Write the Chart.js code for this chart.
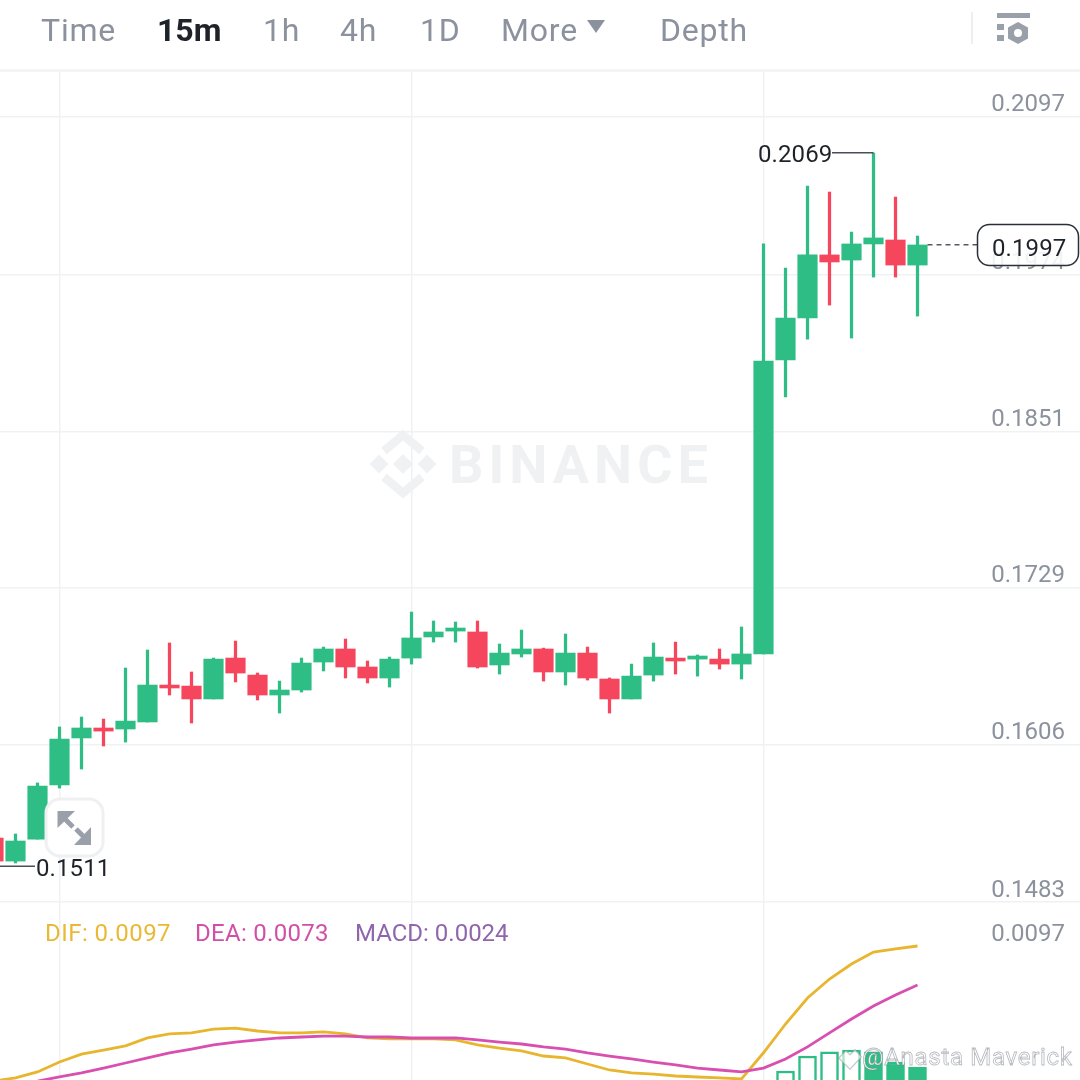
<!DOCTYPE html>
<html>
<head>
<meta charset="utf-8">
<title>15m candlestick chart</title>
<script src="https://cdn.jsdelivr.net/npm/chart.js@4/dist/chart.umd.min.js"></script>
<style>
html,body{margin:0;padding:0;background:#fff;width:1080px;height:1080px;overflow:hidden}
#chart{position:absolute;left:0;top:0;display:block}
.tab{position:absolute;top:11px;font:400 32px Roboto,sans-serif;letter-spacing:.8px;color:#8b929e;line-height:38px;white-space:nowrap}
.tab.on{font-weight:700;color:#1e2329;letter-spacing:0}
#bar{position:absolute;left:0;top:69px;width:1080px;height:2.5px;background:#f3f4f5}
#div{position:absolute;left:971px;top:12px;width:2px;height:32px;background:#eceef0}
svg{position:absolute}
</style>
</head>
<body>
<canvas id="chart" width="1080" height="1080"></canvas>
<div id="bar"></div>
<span class="tab" style="left:41px">Time</span>
<span class="tab on" style="left:157px">15m</span>
<span class="tab" style="left:263px">1h</span>
<span class="tab" style="left:340px">4h</span>
<span class="tab" style="left:420px">1D</span>
<span class="tab" style="left:501px">More</span>
<svg style="left:585px;top:19px" width="22" height="16"><path d="M2 1H20L11 14Z" fill="#8b929e"/></svg>
<span class="tab" style="left:660px">Depth</span>
<div id="div"></div>
<svg style="left:995px;top:10px" width="38" height="36">
<rect x="2" y="3" width="33" height="5" fill="#9aa0aa"/>
<rect x="2" y="14" width="7" height="6" fill="#9aa0aa"/>
<rect x="2" y="25" width="7" height="6" fill="#9aa0aa"/>
<path d="M23 12L33 17.5V28.5L23 34L13 28.5V17.5Z" fill="#9aa0aa"/>
<circle cx="23" cy="23" r="4" fill="#fff"/>
</svg>
<script>
// Candle sequence numbers (left to right)
const candleIndex = [-1,0,1,2,3,4,5,6,7,8,9,10,11,12,13,14,15,16,17,18,19,20,21,22,23,24,25,26,27,28,29,30,31,32,33,34,35,36,37,38,39,40,41];
const openPrices = [.15330,.15150,.15322,.15745,.16113,.16191,.16183,.16238,.16527,.16519,.16418,.16738,.16605,.16449,.16488,.16707,.16809,.16668,.16582,.16738,.16903,.16949,.16942,.16684,.16770,.16809,.16629,.16777,.16574,.16418,.16605,.16738,.16730,.16730,.16691,.16770,.19069,.19398,.19891,.19851,.19977,.20008,.19812];
const closePrices = [.15150,.15307,.15737,.16105,.16191,.16167,.16245,.16527,.16504,.16418,.16730,.16621,.16449,.16488,.16699,.16809,.16668,.16582,.16730,.16895,.16942,.16973,.16668,.16777,.16809,.16629,.16777,.16582,.16418,.16597,.16746,.16715,.16754,.16691,.16770,.19061,.19398,.19891,.19836,.19977,.20024,.19812,.19969];
const highPrices = [.15330,.15362,.15761,.16199,.16277,.16261,.16660,.16801,.16856,.16629,.16738,.16871,.16621,.16558,.16738,.16824,.16887,.16715,.16746,.17098,.17028,.17020,.17028,.16848,.16957,.16816,.16926,.16824,.16582,.16691,.16856,.16863,.16762,.16809,.16981,.19977,.19789,.20430,.20383,.20070,.20688,.20344,.20039];
const lowPrices = [.15111,.15135,.15322,.15721,.15870,.16050,.16081,.16238,.16449,.16230,.16418,.16551,.16410,.16308,.16472,.16637,.16582,.16543,.16511,.16691,.16863,.16863,.16660,.16613,.16746,.16558,.16527,.16566,.16308,.16418,.16558,.16613,.16597,.16652,.16574,.16770,.18780,.19233,.19499,.19241,.19718,.19718,.19413];
const difValues = [.00139,.00158,.00195,.00256,.00305,.00330,.00355,.00404,.00429,.00435,.00459,.00465,.00447,.00435,.00435,.00441,.00429,.00404,.00398,.00398,.00398,.00392,.00361,.00342,.00324,.00293,.00281,.00244,.00207,.00189,.00182,.00170,.00164,.00158,.00152,.00313,.00490,.00650,.00767,.00859,.00933,.00952,.00970];
const deaValues = [.00115,.00127,.00139,.00164,.00189,.00219,.00250,.00281,.00312,.00336,.00361,.00379,.00392,.00404,.00410,.00416,.00416,.00410,.00410,.00404,.00404,.00404,.00392,.00379,.00367,.00349,.00336,.00312,.00293,.00275,.00256,.00238,.00219,.00207,.00195,.00219,.00275,.00349,.00435,.00521,.00601,.00669,.00730];
// MACD histogram: only the bars visible in the frame
const histIndex = [35,36,37,38,39,40,41];
const histValues = [.00201,.00293,.00318,.00330,.00318,.00256,.00225];
const priceTicks = [.2097,.1974,.1851,.1729,.1606,.1483];
const macdTicks = [.0097];
const timeGridIndex = [2,18,34];
const highLabel = {index:39, price:.2069, text:'0.2069'};
const lowLabel = {index:-1, price:.1511, text:'0.1511'};
const lastPrice = {index:41, price:.1997, text:'0.1997'};
const legendItems = [['DIF: 0.0097','#e9b936'],['DEA: 0.0073','#d14fa8'],['MACD: 0.0024','#8f66ad']];

const UP='#2ebd85', DOWN='#f6465d', GRID='#f0f1f3', TICK='#8b929e', INK='#1e2329';
const FONT='Roboto, sans-serif';
const isUp = i => closePrices[i] >= openPrices[i];
const candleColors = candleIndex.map((_,i)=> isUp(i)?UP:DOWN);
const flatAxis = a => { a.width=0; a.paddingTop=0; a.paddingBottom=0; a.paddingLeft=0; a.paddingRight=0; };

const overlay = {
  id:'overlay',
  beforeDatasetsDraw(chart){
    const c=chart.ctx; c.save();
    // BINANCE watermark
    c.fillStyle='#f0f1f2';
    c.font='700 54px '+FONT; c.letterSpacing='5px'; c.textBaseline='middle'; c.textAlign='left';
    c.fillText('BINANCE',449,469);
    c.letterSpacing='0px';
    const cx=403,cy=464;
    const dia=(x,y,r)=>{c.beginPath();c.moveTo(x,y-r);c.lineTo(x+r,y);c.lineTo(x,y+r);c.lineTo(x-r,y);c.closePath();c.fill();};
    dia(cx,cy,10); dia(cx-24,cy,9.5); dia(cx+24,cy,9.5);
    c.lineWidth=8.5;c.strokeStyle='#f0f1f2';
    c.beginPath();c.moveTo(cx-19,cy-13);c.lineTo(cx,cy-29);c.lineTo(cx+19,cy-13);c.stroke();
    c.beginPath();c.moveTo(cx-19,cy+13);c.lineTo(cx,cy+29);c.lineTo(cx+19,cy+13);c.stroke();
    c.restore();
  },
  afterDraw(chart){
    const c=chart.ctx, X=chart.scales.x, Y=chart.scales.y;
    c.save();
    c.font='400 24px '+FONT; c.textBaseline='middle';
    // legend of the MACD pane
    const xs=[45,195,355], sp=['0.45px','0.3px','0px'];
    legendItems.forEach((it,i)=>{c.letterSpacing=sp[i];c.fillStyle=it[1];c.textAlign='left';c.fillText(it[0],xs[i],935);});
    c.letterSpacing='0.1px';
    // highest price
    let py=Y.getPixelForValue(highLabel.price), px=X.getPixelForValue(highLabel.index);
    c.strokeStyle='#4a4f57';c.lineWidth=1.5;c.beginPath();c.moveTo(832,py);c.lineTo(px,py);c.stroke();
    c.fillStyle=INK;c.textAlign='left';c.fillText(highLabel.text,758,py+3.5);
    // lowest price
    py=Y.getPixelForValue(lowLabel.price);
    c.beginPath();c.moveTo(0,py);c.lineTo(35,py);c.stroke();
    c.fillText(lowLabel.text,36,py+4);
    // last price line and pill
    py=Y.getPixelForValue(lastPrice.price); px=X.getPixelForValue(lastPrice.index);
    c.setLineDash([5,4]);c.lineWidth=1.5;c.strokeStyle='#555a62';
    c.beginPath();c.moveTo(px+10,py);c.lineTo(977,py);c.stroke();c.setLineDash([]);
    c.beginPath();c.roundRect(977.5,224.5,101,41,12);c.fillStyle='rgba(255,255,255,.88)';c.fill();
    c.lineWidth=1.5;c.strokeStyle='#2b2f36';c.stroke();
    c.fillStyle=INK;c.fillText(lastPrice.text,992,py+5.5);
    // expand button
    c.beginPath();c.roundRect(46,799,57,57,14);c.fillStyle='#fff';c.fill();
    c.lineWidth=3;c.strokeStyle='#eff0f1';c.stroke();
    c.fillStyle='#9aa0aa';c.strokeStyle='#9aa0aa';c.lineWidth=5;
    c.beginPath();c.moveTo(57.5,811);c.lineTo(75,811);c.lineTo(57.5,828);c.closePath();c.fill();
    c.beginPath();c.moveTo(91,845);c.lineTo(74,845);c.lineTo(91,827);c.closePath();c.fill();
    c.beginPath();c.moveTo(64,818);c.lineTo(73,827);c.stroke();
    c.beginPath();c.moveTo(76,829);c.lineTo(85,838);c.stroke();
    // user watermark
    c.font='400 24px '+FONT;c.letterSpacing='0.7px';c.textAlign='left';
    c.fillStyle='rgba(255,255,255,.92)';c.strokeStyle='rgba(120,125,135,.55)';c.lineWidth=.8;
    c.fillText('@Anasta Maverick',862,1059);c.strokeText('@Anasta Maverick',862,1059);
    c.beginPath();
    c.moveTo(839,1058);c.lineTo(846,1051);c.lineTo(850,1055);c.lineTo(855,1050);c.lineTo(861,1057);c.lineTo(850,1069);c.closePath();
    c.strokeStyle='rgba(150,155,165,.7)';c.lineWidth=1.5;c.stroke();
    c.fillStyle='rgba(255,255,255,.6)';c.fill();
    c.restore();
  }
};

new Chart(document.getElementById('chart'),{
  type:'bar',
  plugins:[overlay],
  data:{datasets:[
    {type:'line',label:'DEA',yAxisID:'macd',order:0,borderColor:'#d94fb0',borderWidth:2.8,pointRadius:0,tension:0,
     data:candleIndex.map((x,i)=>({x,y:deaValues[i]}))},
    {type:'line',label:'DIF',yAxisID:'macd',order:1,borderColor:'#e8b52e',borderWidth:2.8,pointRadius:0,tension:0,
     data:candleIndex.map((x,i)=>({x,y:difValues[i]}))},
    {label:'MACD',yAxisID:'macd',order:2,grouped:false,barThickness:18,borderWidth:2.5,borderSkipped:false,
     borderColor:UP,backgroundColor:histIndex.map((_,i)=>i<4?'#fff':UP),
     data:histIndex.map((x,i)=>({x,y:histValues[i]}))},
    {label:'Body',yAxisID:'y',order:3,grouped:false,barThickness:19.5,borderWidth:0,backgroundColor:candleColors,
     data:candleIndex.map((x,i)=>({x,y:[openPrices[i],closePrices[i]]}))},
    {label:'Wick',yAxisID:'y',order:4,grouped:false,barThickness:2.6,borderWidth:0,backgroundColor:candleColors,
     data:candleIndex.map((x,i)=>({x,y:[lowPrices[i],highPrices[i]]}))}
  ]},
  options:{
    responsive:false,animation:false,events:[],devicePixelRatio:1,
    layout:{padding:{top:70,left:0,right:0,bottom:0}},
    plugins:{legend:{display:false},tooltip:{enabled:false}},
    scales:{
      x:{type:'linear',min:-0.7045,max:48.386,offset:false,display:true,
         grid:{offset:false,color:GRID,lineWidth:1.5,drawTicks:false},border:{display:false},
         ticks:{display:false},
         afterBuildTicks(a){a.ticks=timeGridIndex.map(value=>({value}));},
         afterFit(a){a.height=0;}},
      y:{type:'linear',position:'right',stack:'pane',stackWeight:832,min:.1483,max:.213376,
         grid:{color:GRID,lineWidth:1.5,drawTicks:false},border:{display:false},
         afterBuildTicks(a){a.ticks=priceTicks.map(value=>({value}));},
         afterFit:flatAxis,
         ticks:{mirror:true,padding:-15,labelOffset:-11.5,color:TICK,font:{family:FONT,size:24},callback:v=>v.toFixed(4)}},
      macd:{type:'linear',position:'right',stack:'pane',stackWeight:178,min:.001454,max:.012408,
         grid:{display:false,drawTicks:false},border:{display:false},
         afterBuildTicks(a){a.ticks=macdTicks.map(value=>({value}));},
         afterFit:flatAxis,
         ticks:{mirror:true,padding:-15,labelOffset:-11.5,color:TICK,font:{family:FONT,size:24},callback:v=>v.toFixed(4)}}
    }
  }
});
</script>
</body>
</html>
